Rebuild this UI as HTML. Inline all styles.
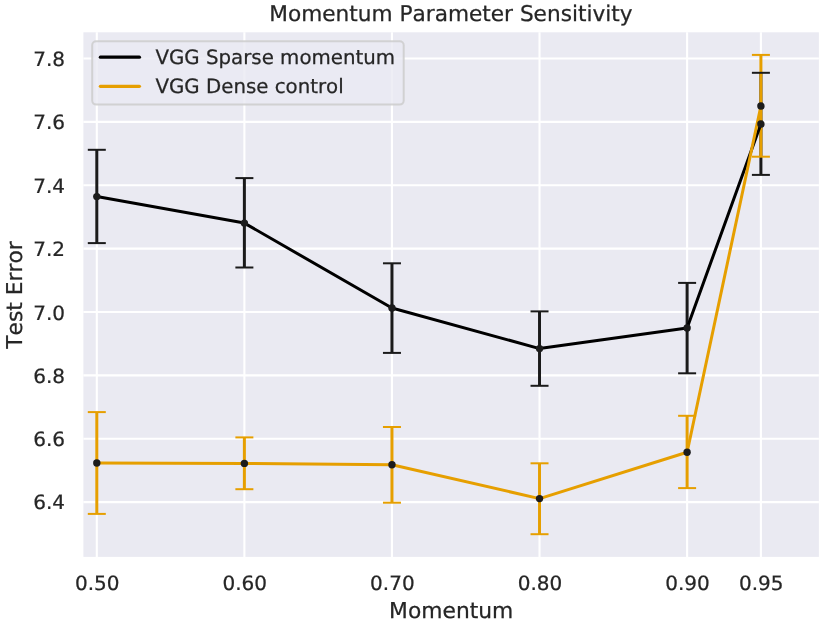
<!DOCTYPE html>
<html lang="en"><head><meta charset="utf-8"><title>Momentum Parameter Sensitivity</title>
<style>html,body{margin:0;padding:0;background:#fff;}body{width:830px;height:623px;overflow:hidden;}svg{display:block;}text{font-kerning:none;text-rendering:geometricPrecision;font-family:"DejaVu Sans","Liberation Sans",sans-serif;fill:#262626;}</style></head><body>
<svg width="830" height="623" viewBox="0 0 830 623">
<rect x="0" y="0" width="830" height="623" fill="#ffffff"/>
<rect x="83.40" y="32.30" width="735.50" height="524.60" fill="#eaeaf2"/>
<g stroke="#ffffff" stroke-width="2.1" stroke-linecap="butt">
<line x1="96.80" y1="32.30" x2="96.80" y2="556.90"/>
<line x1="244.38" y1="32.30" x2="244.38" y2="556.90"/>
<line x1="391.96" y1="32.30" x2="391.96" y2="556.90"/>
<line x1="539.53" y1="32.30" x2="539.53" y2="556.90"/>
<line x1="687.11" y1="32.30" x2="687.11" y2="556.90"/>
<line x1="760.90" y1="32.30" x2="760.90" y2="556.90"/>
<line x1="83.40" y1="502.10" x2="818.90" y2="502.10"/>
<line x1="83.40" y1="438.73" x2="818.90" y2="438.73"/>
<line x1="83.40" y1="375.36" x2="818.90" y2="375.36"/>
<line x1="83.40" y1="311.99" x2="818.90" y2="311.99"/>
<line x1="83.40" y1="248.61" x2="818.90" y2="248.61"/>
<line x1="83.40" y1="185.24" x2="818.90" y2="185.24"/>
<line x1="83.40" y1="121.87" x2="818.90" y2="121.87"/>
<line x1="83.40" y1="58.50" x2="818.90" y2="58.50"/>
</g>
<g stroke="#1a1a1a" stroke-width="3.00" stroke-linecap="butt">
<line x1="96.80" y1="149.80" x2="96.80" y2="243.10"/>
<line x1="244.38" y1="178.10" x2="244.38" y2="267.50"/>
<line x1="391.96" y1="263.30" x2="391.96" y2="352.90"/>
<line x1="539.53" y1="311.40" x2="539.53" y2="385.80"/>
<line x1="687.11" y1="282.90" x2="687.11" y2="373.30"/>
<line x1="760.90" y1="72.80" x2="760.90" y2="174.90"/>
</g>
<g stroke="#E69F00" stroke-width="3.00" stroke-linecap="butt">
<line x1="96.80" y1="412.10" x2="96.80" y2="513.90"/>
<line x1="244.38" y1="437.40" x2="244.38" y2="489.20"/>
<line x1="391.96" y1="427.00" x2="391.96" y2="502.70"/>
<line x1="539.53" y1="463.30" x2="539.53" y2="534.20"/>
<line x1="687.11" y1="415.80" x2="687.11" y2="488.10"/>
<line x1="760.90" y1="54.90" x2="760.90" y2="156.70"/>
</g>
<polyline points="96.80,196.60 244.38,223.10 391.96,308.00 539.53,348.60 687.11,328.00 760.90,124.00" fill="none" stroke="#000000" stroke-width="3.00" stroke-linejoin="round" stroke-linecap="butt"/>
<g stroke="#1a1a1a" stroke-width="2.00" stroke-linecap="butt">
<line x1="87.80" y1="149.80" x2="105.80" y2="149.80"/>
<line x1="87.80" y1="243.10" x2="105.80" y2="243.10"/>
<line x1="235.38" y1="178.10" x2="253.38" y2="178.10"/>
<line x1="235.38" y1="267.50" x2="253.38" y2="267.50"/>
<line x1="382.96" y1="263.30" x2="400.96" y2="263.30"/>
<line x1="382.96" y1="352.90" x2="400.96" y2="352.90"/>
<line x1="530.53" y1="311.40" x2="548.53" y2="311.40"/>
<line x1="530.53" y1="385.80" x2="548.53" y2="385.80"/>
<line x1="678.11" y1="282.90" x2="696.11" y2="282.90"/>
<line x1="678.11" y1="373.30" x2="696.11" y2="373.30"/>
<line x1="751.90" y1="72.80" x2="769.90" y2="72.80"/>
<line x1="751.90" y1="174.90" x2="769.90" y2="174.90"/>
</g>
<polyline points="96.80,463.00 244.38,463.40 391.96,464.70 539.53,498.60 687.11,452.20 760.90,106.00" fill="none" stroke="#E69F00" stroke-width="3.00" stroke-linejoin="round" stroke-linecap="butt"/>
<g stroke="#E69F00" stroke-width="2.00" stroke-linecap="butt">
<line x1="87.80" y1="412.10" x2="105.80" y2="412.10"/>
<line x1="87.80" y1="513.90" x2="105.80" y2="513.90"/>
<line x1="235.38" y1="437.40" x2="253.38" y2="437.40"/>
<line x1="235.38" y1="489.20" x2="253.38" y2="489.20"/>
<line x1="382.96" y1="427.00" x2="400.96" y2="427.00"/>
<line x1="382.96" y1="502.70" x2="400.96" y2="502.70"/>
<line x1="530.53" y1="463.30" x2="548.53" y2="463.30"/>
<line x1="530.53" y1="534.20" x2="548.53" y2="534.20"/>
<line x1="678.11" y1="415.80" x2="696.11" y2="415.80"/>
<line x1="678.11" y1="488.10" x2="696.11" y2="488.10"/>
<line x1="751.90" y1="54.90" x2="769.90" y2="54.90"/>
<line x1="751.90" y1="156.70" x2="769.90" y2="156.70"/>
</g>
<g fill="#1c1c1c">
<circle cx="96.80" cy="196.60" r="3.70"/>
<circle cx="244.38" cy="223.10" r="3.70"/>
<circle cx="391.96" cy="308.00" r="3.70"/>
<circle cx="539.53" cy="348.60" r="3.70"/>
<circle cx="687.11" cy="328.00" r="3.70"/>
<circle cx="760.90" cy="124.00" r="3.70"/>
<circle cx="96.80" cy="463.00" r="3.70"/>
<circle cx="244.38" cy="463.40" r="3.70"/>
<circle cx="391.96" cy="464.70" r="3.70"/>
<circle cx="539.53" cy="498.60" r="3.70"/>
<circle cx="687.11" cy="452.20" r="3.70"/>
<circle cx="760.90" cy="106.00" r="3.70"/>
</g>
<rect x="92.2" y="41.2" width="311.5" height="63.4" rx="4" ry="4" fill="#eaeaf2" fill-opacity="0.8" stroke="#cccccc" stroke-opacity="0.85" stroke-width="2"/>
<line x1="100.4" y1="57.2" x2="139.4" y2="57.2" stroke="#000000" stroke-width="3.3" stroke-linecap="round"/>
<line x1="100.4" y1="86.3" x2="139.4" y2="86.3" stroke="#E69F00" stroke-width="3.3" stroke-linecap="round"/>
<text transform="translate(155.50,64.20)" font-size="19.8" text-anchor="start" stroke="#262626" stroke-width="0.25">VGG Sparse momentum</text>
<text transform="translate(155.50,93.30)" font-size="19.8" text-anchor="start" stroke="#262626" stroke-width="0.25">VGG Dense control</text>
<text transform="translate(450.90,20.70)" font-size="21.65" text-anchor="middle" stroke="#262626" stroke-width="0.25">Momentum Parameter Sensitivity</text>
<text transform="translate(451.20,617.90)" font-size="21.8" text-anchor="middle" stroke="#262626" stroke-width="0.25">Momentum</text>
<text transform="translate(22.00,295.00) rotate(-90)" font-size="21.8" text-anchor="middle" stroke="#262626" stroke-width="0.25">Test Error</text>
<text transform="translate(97.20,590.20) scale(1,0.985)" font-size="20" text-anchor="middle" stroke="#262626" stroke-width="0.25">0.50</text>
<text transform="translate(244.78,590.20) scale(1,0.985)" font-size="20" text-anchor="middle" stroke="#262626" stroke-width="0.25">0.60</text>
<text transform="translate(392.36,590.20) scale(1,0.985)" font-size="20" text-anchor="middle" stroke="#262626" stroke-width="0.25">0.70</text>
<text transform="translate(539.93,590.20) scale(1,0.985)" font-size="20" text-anchor="middle" stroke="#262626" stroke-width="0.25">0.80</text>
<text transform="translate(687.51,590.20) scale(1,0.985)" font-size="20" text-anchor="middle" stroke="#262626" stroke-width="0.25">0.90</text>
<text transform="translate(761.30,590.20) scale(1,0.985)" font-size="20" text-anchor="middle" stroke="#262626" stroke-width="0.25">0.95</text>
<text transform="translate(65.10,508.90) scale(1,0.985)" font-size="20" text-anchor="end" stroke="#262626" stroke-width="0.25">6.4</text>
<text transform="translate(65.10,446.23) scale(1,0.985)" font-size="20" text-anchor="end" stroke="#262626" stroke-width="0.25">6.6</text>
<text transform="translate(65.10,383.26) scale(1,0.985)" font-size="20" text-anchor="end" stroke="#262626" stroke-width="0.25">6.8</text>
<text transform="translate(65.10,320.29) scale(1,0.985)" font-size="20" text-anchor="end" stroke="#262626" stroke-width="0.25">7.0</text>
<text transform="translate(65.10,256.11) scale(1,0.985)" font-size="20" text-anchor="end" stroke="#262626" stroke-width="0.25">7.2</text>
<text transform="translate(65.10,192.74) scale(1,0.985)" font-size="20" text-anchor="end" stroke="#262626" stroke-width="0.25">7.4</text>
<text transform="translate(65.10,129.37) scale(1,0.985)" font-size="20" text-anchor="end" stroke="#262626" stroke-width="0.25">7.6</text>
<text transform="translate(65.10,66.00) scale(1,0.985)" font-size="20" text-anchor="end" stroke="#262626" stroke-width="0.25">7.8</text>
</svg></body></html>
